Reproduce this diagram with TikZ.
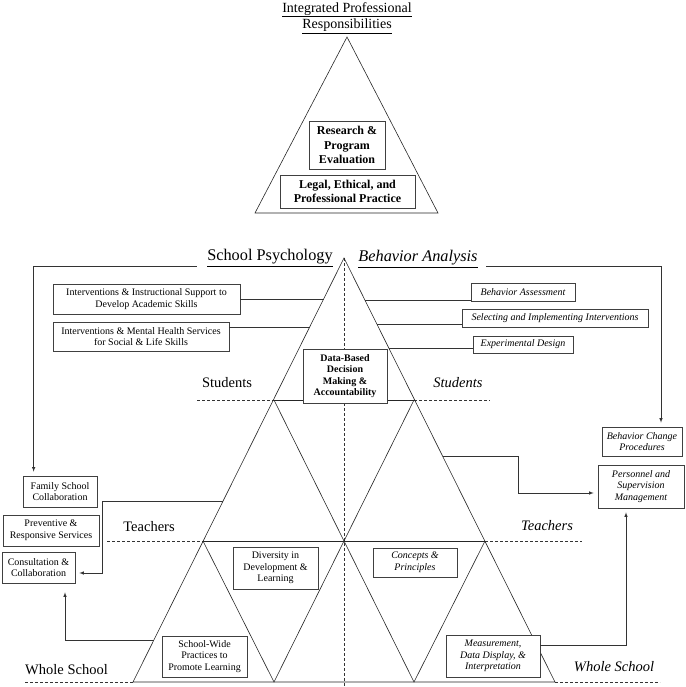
\documentclass[tikz,border=0pt]{standalone}
\usepackage{fontspec}
\setmainfont{Liberation Serif}
\usetikzlibrary{calc,arrows}
\begin{document}
\begin{tikzpicture}[x=1pt,y=-1pt,
    box/.style={draw=black!75,line width=0.7pt,fill=white,align=center,inner sep=1pt,font=\fontsize{10}{11.7}\selectfont},
    bbox/.style={box,font=\bfseries\fontsize{12}{14.5}\selectfont},
    ibox/.style={box,font=\itshape\fontsize{10}{11.7}\selectfont},
    lvl/.style={font=\fontsize{14.5}{16}\selectfont},
    head/.style={font=\fontsize{16.3}{18}\selectfont},
    tri/.style={line width=0.6pt,black!85},
    dsh/.style={line width=0.5pt,black!80,dash pattern=on 3pt off 2pt},
    conn/.style={draw=black!80,line width=0.6pt},
    arr/.style={conn,-latex,shorten >=4pt}]
              \useasboundingbox (0,0) rectangle (685,687);
              \node[align=center,font=\fontsize{14}{16.5}\selectfont](title)at(347,18){\underline{Integrated Professional}\\\underline{Responsibilities}};
              \draw[tri] (347,37) -- (438,213) -- (255,213) -- cycle;
              \node[bbox,minimum width=76,minimum height=48](res)at(347,145){Research \&\\Program\\Evaluation};
              \node[bbox,minimum width=135,minimum height=33](legal)at(347.5,191.5){Legal, Ethical, and\\Professional Practice};
              \coordinate (top) at (344,258);
              \coordinate (s1) at (274,400);
              \coordinate (s2) at (414,400);
              \coordinate (t1) at (203,541);
              \coordinate (t2) at (344,541);
              \coordinate (t3) at (485,541);
              \coordinate (w1) at (133,682);
              \coordinate (w2) at (274,682);
              \coordinate (w3) at (414,682);
              \coordinate (w4) at (555,682);
              \draw[dsh] (top) -- (344,687);
              \draw[dsh] (197,400) -- (s1) (s2) -- (490,400);
              \draw[dsh] (107,541) -- (t1) (t3) -- (582,541);
              \draw[dsh] (25,682) -- (w1) (w4) -- (660,682);
              \draw[tri] (top) -- (w1) -- (w4) -- cycle;
              \draw[tri] (s1) -- (s2) (t1) -- (t3);
              \draw[tri] (s1) -- (t2) -- (s2);
              \draw[tri] (t1) -- (w2) -- (t2) -- (w3) -- (t3);
              \coordinate (e1) at ($(top)!0.0967!(w1)$);
              \coordinate (e2) at ($(top)!0.1627!(w1)$);
              \coordinate (e3) at ($(top)!0.0991!(w4)$);
              \coordinate (e4) at ($(top)!0.1557!(w4)$);
              \coordinate (e5) at ($(top)!0.2123!(w4)$);
              \coordinate (e6) at ($(top)!0.4670!(w4)$);
              \coordinate (e7) at ($(top)!0.5731!(w1)$);
              \coordinate (e8) at ($(top)!0.9009!(w1)$);
              \node[head](sp)at(270,258){\underline{School Psychology}};
              \node[head,font=\itshape\fontsize{16.3}{18}\selectfont](ba)at(418,259){\underline{Behavior Analysis}};
              \node[lvl](stl)at(227,383){Students};
              \node[lvl](tel)at(149,527){Teachers};
              \node[lvl](wsl)at(66.5,670){Whole School};
              \node[lvl,font=\itshape\fontsize{14.5}{16}\selectfont](str)at(458,383){Students};
              \node[lvl,font=\itshape\fontsize{14.5}{16}\selectfont](ter)at(547,526){Teachers};
              \node[lvl,font=\itshape\fontsize{14.5}{16}\selectfont](wsr)at(614,667){Whole School};
              \node[box,font=\bfseries\fontsize{10}{11.3}\selectfont,minimum width=84,minimum height=54](dbd)at(345,376){Data-Based\\Decision\\Making \&\\Accountability};
              \node[box,minimum width=187,minimum height=30](ia)at(146.5,299){Interventions \& Instructional Support to\\Develop Academic Skills};
              \node[box,minimum width=176,minimum height=29](im)at(141,336.5){Interventions \& Mental Health Services\\for Social \& Life Skills};
              \node[box,minimum width=74,minimum height=31](fam)at(60,491.5){Family School\\Collaboration};
              \node[box,minimum width=96,minimum height=31](prev)at(51,530.5){Preventive \&\\Responsive Services};
              \node[box,minimum width=73,minimum height=31](cons)at(38.5,567.5){Consultation \&\\Collaboration};
              \node[box,minimum width=85,minimum height=42](div)at(275.5,568){Diversity in\\Development \&\\Learning};
              \node[box,minimum width=85,minimum height=41](sw)at(204.5,656.5){School-Wide\\Practices to\\Promote Learning};
              \node[ibox,minimum width=104,minimum height=18](bas)at(523,292){Behavior Assessment};
              \node[ibox,minimum width=186,minimum height=18](sel)at(555,318){Selecting and Implementing Interventions};
              \node[ibox,minimum width=100,minimum height=17](exd)at(523,344.5){Experimental Design};
              \node[ibox,minimum width=80,minimum height=29](bcp)at(642,441.5){Behavior Change\\Procedures};
              \node[ibox,minimum width=86,minimum height=43](pers)at(641,486.5){Personnel and\\Supervision\\Management};
              \node[ibox,minimum width=84,minimum height=29](con)at(415,562.5){Concepts \&\\Principles};
              \node[ibox,minimum width=94,minimum height=42](meas)at(493,656){Measurement,\\Data Display, \&\\Interpretation};
              \draw[conn] (e1 -| ia.east) -- (e1);
              \draw[conn] (e2 -| im.east) -- (e2);
              \draw[conn] (e3) -- (e3 -| bas.west);
              \draw[conn] (e4) -- (e4 -| sel.west);
              \draw[conn] (e5) -- (e5 -| exd.west);
              \draw[arr] ([shift={(-7,8)}]sp.west) -| ([shift={(11,0)}]fam.north west);
              \draw[arr] ([shift={(5,7)}]ba.east) -| ([shift={(19,0)}]bcp.north);
              \draw[arr] (e6) -- ++(76,0) |- ([shift={(0,6.5)}]pers.west);
              \draw[arr] ([shift={(0,-11)}]meas.east) -| ([shift={(-15,0)}]pers.south);
              \draw[arr] (e7) -- ++(-121,0) |- ([shift={(0,5.5)}]cons.east);
              \draw[arr,shorten >=9pt] (e8) -| ([shift={(26.5,0)}]cons.south);
            \end{tikzpicture}
\end{document}
